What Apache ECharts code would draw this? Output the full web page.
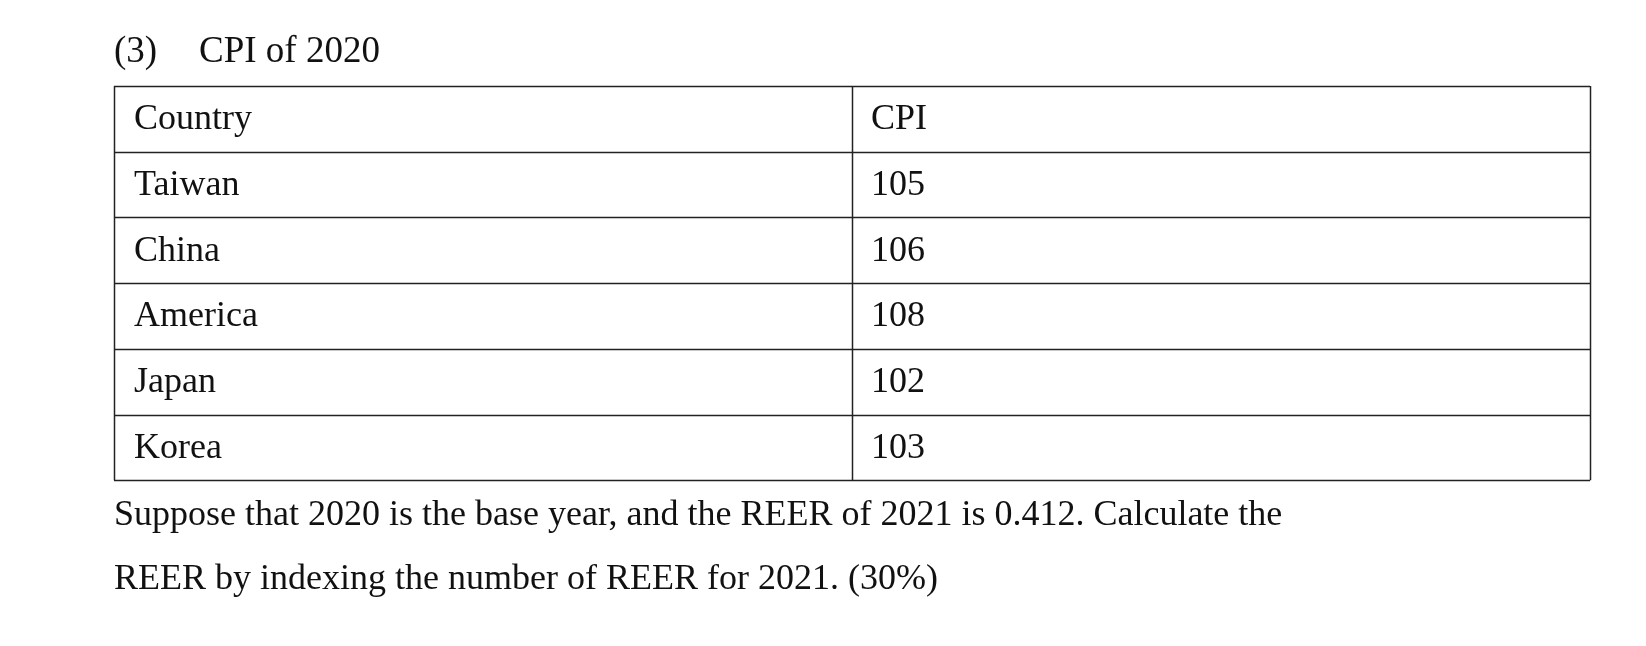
<!DOCTYPE html>
<html>
<head>
<meta charset="utf-8">
<script src="https://cdn.jsdelivr.net/npm/echarts@6/dist/echarts.min.js"></script>
<style>html,body{margin:0;padding:0;background:#fff}#main{width:1646px;height:646px}</style>
</head>
<body>
<div id="main"></div>
<script>
var headers = ['Country', 'CPI'];
var countries = ['Taiwan', 'China', 'America', 'Japan', 'Korea'];
var cpi = [105, 106, 108, 102, 103];
var noteLines = [
	'Suppose that 2020 is the base year, and the REER of 2021 is 0.412. Calculate the',
	'REER by indexing the number of REER for 2021. (30%)'
];

var chart = echarts.init(document.getElementById('main'));
var fam = '"Liberation Serif", "Times New Roman", serif';
var tblLeft = 114, tblRight = 1590, tblTop = 86, rowH = 65.7, divX = 852;
var rows = [headers].concat(countries.map(function (c, i) { return [c, String(cpi[i])]; }));
var els = [];

function txt(t, x, y, size) {
	return { type: 'text', x: x, y: y, style: { text: t, fontSize: size, fontFamily: fam, fill: '#111', verticalAlign: 'middle' } };
}

els.push(txt('(3)', 114, 52, 37));
els.push(txt('CPI of 2020', 199, 52, 37));

var tblBottom = tblTop + rowH * rows.length;
for (var i = 0; i <= rows.length; i++) {
	var y = Math.round(tblTop + rowH * i) + 0.5;
	els.push({ type: 'line', shape: { x1: tblLeft, y1: y, x2: tblRight, y2: y }, style: { stroke: '#222', lineWidth: 1.5 } });
}
[tblLeft, divX, tblRight].forEach(function (x) {
	els.push({ type: 'line', shape: { x1: x + 0.5, y1: tblTop, x2: x + 0.5, y2: tblBottom }, style: { stroke: '#222', lineWidth: 1.5 } });
});
rows.forEach(function (r, i) {
	var cy = tblTop + rowH * i + rowH / 2 + 1;
	els.push(txt(r[0], 134, cy, 36));
	els.push(txt(r[1], 871, cy, 36));
});
noteLines.forEach(function (t, i) {
	els.push(txt(t, 114, 516 + 64 * i, 36));
});

chart.setOption({ backgroundColor: '#fff', graphic: els });
</script>
</body>
</html>
